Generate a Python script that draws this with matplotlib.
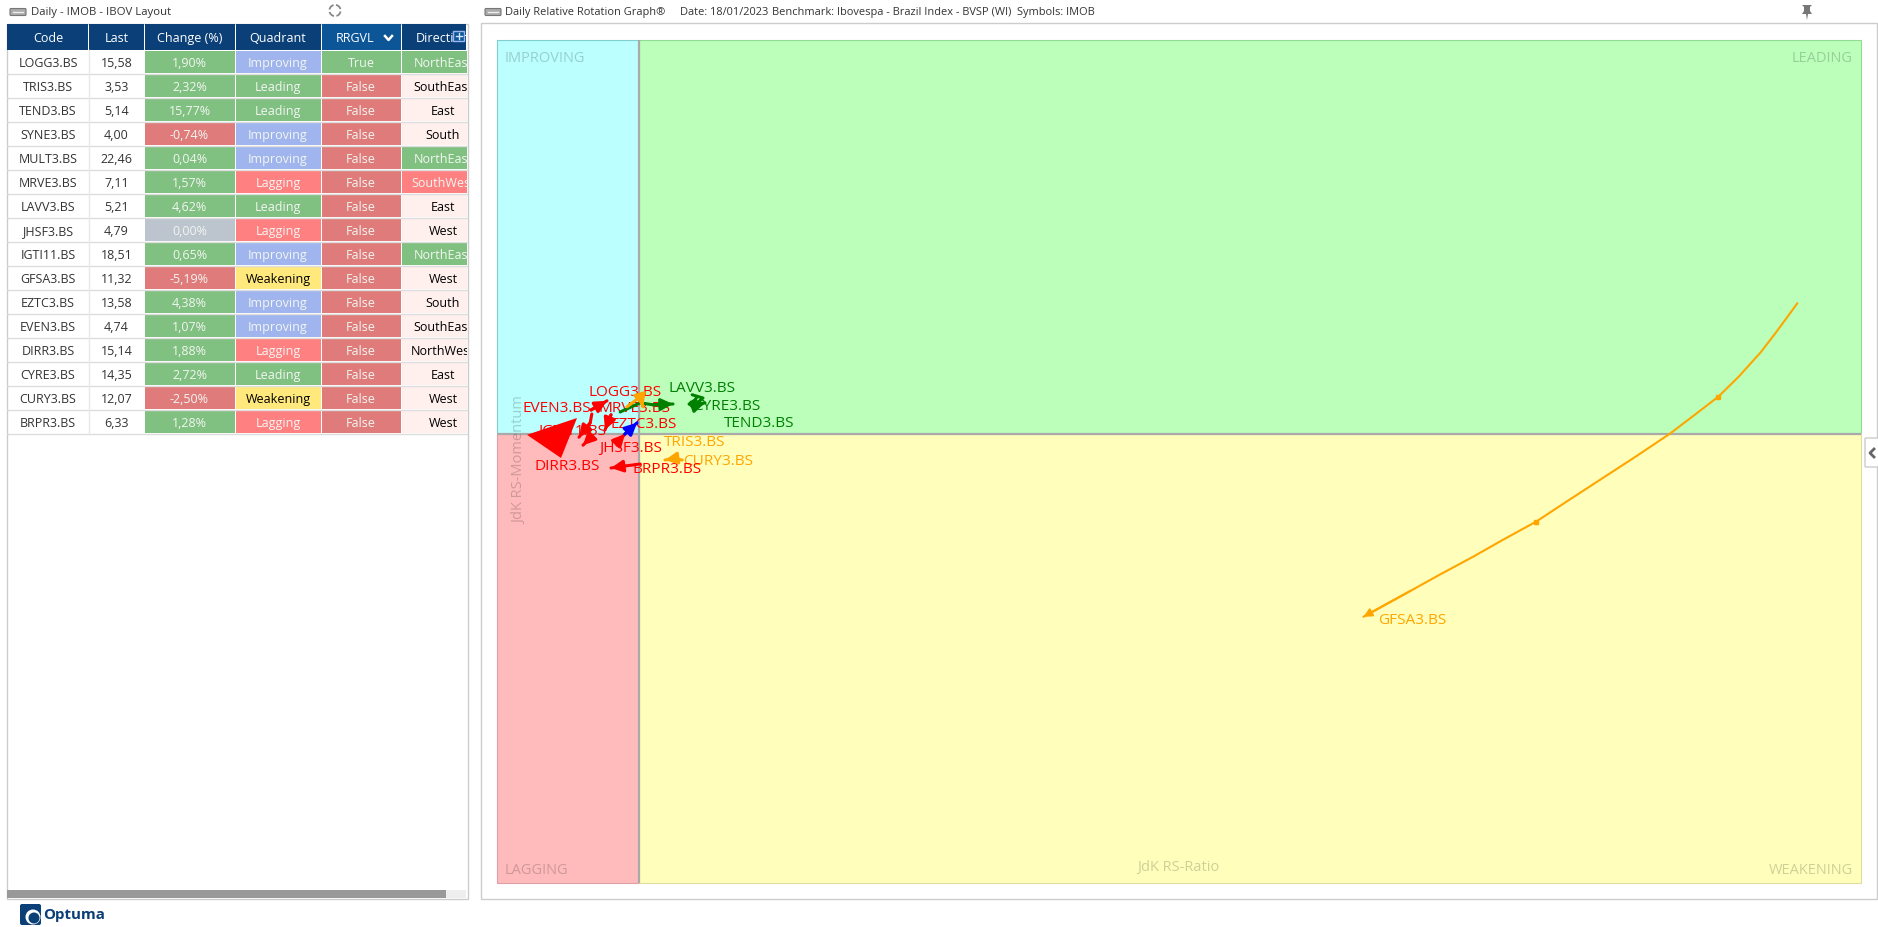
import matplotlib
matplotlib.use('Agg')
import matplotlib.pyplot as plt
from matplotlib.patches import Rectangle, Polygon, FancyBboxPatch, Circle, Wedge

plt.rcParams['font.family'] = ['Open Sans', 'DejaVu Sans']

# table columns
codes = ['LOGG3.BS', 'TRIS3.BS', 'TEND3.BS', 'SYNE3.BS', 'MULT3.BS', 'MRVE3.BS', 'LAVV3.BS', 'JHSF3.BS',
         'IGTI11.BS', 'GFSA3.BS', 'EZTC3.BS', 'EVEN3.BS', 'DIRR3.BS', 'CYRE3.BS', 'CURY3.BS', 'BRPR3.BS']
last = ['15,58', '3,53', '5,14', '4,00', '22,46', '7,11', '5,21', '4,79',
        '18,51', '11,32', '13,58', '4,74', '15,14', '14,35', '12,07', '6,33']
change = ['1,90%', '2,32%', '15,77%', '-0,74%', '0,04%', '1,57%', '4,62%', '0,00%',
          '0,65%', '-5,19%', '4,38%', '1,07%', '1,88%', '2,72%', '-2,50%', '1,28%']
quadrant = ['Improving', 'Leading', 'Leading', 'Improving', 'Improving', 'Lagging', 'Leading', 'Lagging',
            'Improving', 'Weakening', 'Improving', 'Improving', 'Lagging', 'Leading', 'Weakening', 'Lagging']
rrgvl = ['True'] + ['False'] * 15
direction = ['NorthEast', 'SouthEast', 'East', 'South', 'NorthEast', 'SouthWest', 'East', 'West',
             'NorthEast', 'West', 'South', 'SouthEast', 'NorthWest', 'East', 'West', 'West']
headers = ['Code', 'Last', 'Change (%)', 'Quadrant', 'RRGVL', 'Direction']

# rotation trails, (JdK RS-Ratio, JdK RS-Momentum)
gfsa_x = [128.96, 128.69, 128.41, 128.04, 127.49, 126.98, 126.38, 125.79, 124.91, 124.08, 123.25, 122.43,
          121.59, 120.85, 120.03, 119.29, 118.11]
gfsa_y = [103.27, 102.90, 102.52, 102.04, 101.43, 100.93, 100.47, 100.02, 99.43, 98.89, 98.35, 97.81,
          97.35, 96.93, 96.49, 96.08, 95.43]
logg_x = [98.80, 99.20]
logg_y = [100.60, 100.83]
even_x = [98.78, 98.60]
even_y = [99.90, 99.72]
mrve_x = [99.30, 99.15]
mrve_y = [100.48, 100.10]
igti_x = [98.82, 98.78, 98.50]
igti_y = [100.50, 100.28, 99.92]
jhsf_x = [99.45, 99.65]
jhsf_y = [99.78, 100.00]
eztc_x = [99.65, 99.95]
eztc_y = [100.00, 100.28]
brpr_x = [100.03, 99.65, 99.30]
brpr_y = [99.25, 99.20, 99.15]
tend_x = [99.53, 100.03, 100.35, 100.85]
tend_y = [100.55, 100.78, 100.73, 100.75]
tris_x = [99.70, 100.03, 100.10]
tris_y = [100.68, 100.93, 100.68]
cury_x = [101.08, 100.85, 100.65]
cury_y = [99.35, 99.38, 99.35]
cyre_x = [101.33, 101.60, 101.33, 101.65]
cyre_y = [100.98, 100.90, 100.68, 100.78]
lavv_x = [101.35, 101.45]
lavv_y = [100.75, 100.93]
dirr_x = [97.20, 98.45, 98.05]
dirr_y = [99.98, 100.40, 99.40]

GREEN = '#80C080'
RED = '#E07B7B'
ORANGE = '#FFA500'
LINE = '#CCCCCC'
quad_col = {'Improving': '#A0B4EE', 'Leading': GREEN, 'Lagging': '#FF8080', 'Weakening': '#FFE87C'}
dir_col = {'NorthEast': GREEN, 'SouthWest': '#FF8080'}

fig = plt.figure(figsize=(18.78, 9.27), dpi=100)
bg = fig.add_axes([0, 0, 1, 1])
bg.set_xlim(0, 1878)
bg.set_ylim(927, 0)
bg.axis('off')


def cell(x0, x1, y0, y1, color):
    bg.add_patch(Rectangle((x0, y0), x1 - x0, y1 - y0, fc=color, ec='none', zorder=1))


# left panel
bg.add_patch(Rectangle((6.5, 24), 461, 875, fc='white', ec=LINE, lw=1, zorder=0))
cols = [7, 89, 145, 236, 322, 402, 467]
cx = [48, 116.5, 189.5, 278, 361, 443]
clip = Rectangle((7, 24), 460, 420, transform=bg.transData)

for i, h in enumerate(headers):
    cell(cols[i], cols[i + 1] - 1, 24, 50, '#0C5596' if i == 4 else '#0B3F77')
    t = bg.text(cx[i] - (6 if i == 4 else 0), 38.5, h, color='white', fontsize=9, ha='center', va='center', zorder=3)
    t.set_clip_path(clip)
    t.set_clip_on(True)
bg.plot([385, 388.5, 392], [36, 40, 36], color='white', lw=1.8, zorder=3)
bg.add_patch(Rectangle((453, 31), 11, 10, fc='#0C5596', ec='#9DB8F0', lw=1, zorder=4))
bg.plot([458.5, 458.5], [33, 39], color='#D8E4FF', lw=1, zorder=5)
bg.plot([455.5, 461.5], [36, 36], color='#D8E4FF', lw=1, zorder=5)

for r in range(16):
    y0 = 50 + 24 * r
    y1 = y0 + 24
    ym = y0 + 13.5
    neg = change[r].startswith('-')
    chg_col = '#BCC4CE' if change[r] == '0,00%' else (RED if neg else GREEN)
    cell(cols[2], cols[3] - 1, y0 + 1, y1 - 1, chg_col)
    cell(cols[3], cols[4] - 1, y0 + 1, y1 - 1, quad_col[quadrant[r]])
    cell(cols[4], cols[5] - 1, y0 + 1, y1 - 1, GREEN if rrgvl[r] == 'True' else RED)
    cell(cols[5], cols[6], y0 + 1, y1 - 1, dir_col.get(direction[r], '#FFF0EE'))
    bg.plot([7, 467], [y1, y1], color='#DDDDDD', lw=1, zorder=2)
    bg.text(cx[0], ym, codes[r], color='#333333', fontsize=9, ha='center', va='center', zorder=3)
    bg.text(cx[1], ym, last[r], color='#333333', fontsize=9, ha='center', va='center', zorder=3)
    bg.text(cx[2], ym, change[r], color='#F2F6F2', fontsize=9, ha='center', va='center', zorder=3)
    bg.text(cx[3], ym, quadrant[r], color='black' if quadrant[r] == 'Weakening' else '#F2F6F2',
            fontsize=9, ha='center', va='center', zorder=3)
    bg.text(cx[4], ym, rrgvl[r], color='#F2F6F2', fontsize=9, ha='center', va='center', zorder=3)
    t = bg.text(cx[5], ym, direction[r], color='#F2F6F2' if direction[r] in dir_col else 'black',
                fontsize=9, ha='center', va='center', zorder=3)
    t.set_clip_path(clip)
    t.set_clip_on(True)
bg.plot([89, 89], [50, 434], color='#E8E8E8', lw=1, zorder=2)

# scrollbar
cell(7, 446, 890, 898, '#999999')
cell(446, 466, 890, 898, '#EEEEEE')


# header strips and small icons
def link_icon(x, y):
    bg.add_patch(FancyBboxPatch((x, y - 2.5), 14, 5, boxstyle='round,pad=1', fc='#AAAAAA', ec='#777777', lw=.8, zorder=3))
    bg.plot([x + 2, x + 12], [y, y], color='#EEEEEE', lw=1, zorder=4)


link_icon(11, 12)
link_icon(486, 12)
bg.text(31, 12, 'Daily - IMOB - IBOV Layout', color='#333333', fontsize=8.2, ha='left', va='center')
for tx, s in [(505, 'Daily Relative Rotation Graph®'), (679.5, 'Date: 18/01/2023'),
              (771.5, 'Benchmark: Ibovespa - Brazil Index - BVSP (WI)'), (1017, 'Symbols: IMOB')]:
    bg.text(tx, 12, s, color='#333333', fontsize=7.9, ha='left', va='center')
for a, b in [(10, 75), (100, 165), (190, 255), (280, 345)]:
    bg.add_patch(Wedge((335, 10.5), 6.5, a, b, width=1.8, fc='#888888', ec='none', zorder=3))
bg.add_patch(Polygon([(1802, 5), (1812, 5), (1810, 7), (1810, 11), (1812, 14), (1808, 14), (1807, 20), (1806, 14), (1802, 14), (1804, 11), (1804, 7)],
                     fc='#777777', ec='none', zorder=3))

# logo
bg.add_patch(FancyBboxPatch((22, 906), 17, 17, boxstyle='round,pad=2', fc='#0B3F77', ec='none', zorder=3))
bg.add_patch(Circle((33, 917), 7.5, fc='white', ec='none', zorder=4))
bg.add_patch(Circle((34, 918), 5.5, fc='#0B3F77', ec='none', zorder=5))
bg.text(43, 914.5, 'Optuma', color='#0B3F77', fontsize=10.8, fontweight='bold', ha='left', va='center', zorder=3)

# right panel
bg.add_patch(Rectangle((481, 23), 1396, 876, fc='white', ec=LINE, lw=1, zorder=0))
bg.add_patch(FancyBboxPatch((1866, 439), 14, 27, boxstyle='round,pad=1', fc='white', ec='#CCCCCC', lw=1, zorder=3))
bg.plot([1874, 1870, 1874], [449, 453, 457], color='#666666', lw=2, zorder=4)

# RRG area
ax = fig.add_axes([497 / 1878, 1 - 883 / 927, (1861 - 497) / 1878, (883 - 40) / 927], zorder=2)
ax.set_xlim(96.45, 130.55)
ax.set_ylim(88.775, 109.85)
ax.axis('off')
x0, x1 = ax.get_xlim()
y0, y1 = ax.get_ylim()
ax.add_patch(Rectangle((x0, 100), 100 - x0, y1 - 100, fc='#BBFFFF', ec='#80D0D0', lw=.8, clip_on=False))
ax.add_patch(Rectangle((100, 100), x1 - 100, y1 - 100, fc='#BBFFBB', ec='#90DC90', lw=.8, clip_on=False))
ax.add_patch(Rectangle((x0, y0), 100 - x0, 100 - y0, fc='#FFBBBB', ec='#DDA0A8', lw=.8, clip_on=False))
ax.add_patch(Rectangle((100, y0), x1 - 100, 100 - y0, fc='#FFFFBB', ec='#DDDDA0', lw=.8, clip_on=False))
ax.axhline(100, color='#AAAAAA', lw=1.6, zorder=2)
ax.axvline(100, color='#AAAAAA', lw=1.6, zorder=2)

corner_col = '#00000030'
bg2 = dict(transform=bg.transData, color=corner_col, fontsize=10.5, va='center', zorder=3)
ax.text(505, 58, 'IMPROVING', ha='left', **bg2)
ax.text(1853, 58, 'LEADING', ha='right', **bg2)
ax.text(505, 870, 'LAGGING', ha='left', **bg2)
ax.text(1853, 870, 'WEAKENING', ha='right', **bg2)
ax.text(1178, 868, 'JdK RS-Ratio', ha='center', **bg2)
ax.text(520, 460, 'JdK RS-Momentum', ha='center', rotation=90, **bg2)

# labels sit under the trails
label_cfg = [('LOGG3.BS', 589, 392, 'red'), ('LAVV3.BS', 668, 388, 'green'), ('EVEN3.BS', 522, 409, 'red'),
             ('MRVE3.BS', 599, 409, 'red'), ('CYRE3.BS', 693, 406, 'green'), ('IGTI11.BS', 538, 431, 'red'),
             ('EZTC3.BS', 610, 424, 'red'), ('TEND3.BS', 724, 423, 'green'), ('TRIS3.BS', 664, 442, ORANGE),
             ('JHSF3.BS', 599, 448, 'red'), ('CURY3.BS', 683, 461, ORANGE), ('DIRR3.BS', 534, 466, 'red'),
             ('BRPR3.BS', 632, 469, 'red'), ('GFSA3.BS', 1378, 620, ORANGE)]
for name, lx, ly, c in label_cfg:
    ax.text(lx, ly, name, transform=bg.transData, color=c, fontsize=11.1, ha='left', va='center', zorder=4)


def trail(xs, ys, color, head=10, lw=2.2):
    ax.plot(xs, ys, color=color, lw=lw, zorder=5, solid_capstyle='round')
    ax.annotate('', xy=(xs[-1], ys[-1]), xytext=(xs[-2], ys[-2]), zorder=6,
                arrowprops=dict(arrowstyle='-|>,head_length=.7,head_width=.35', color=color, lw=lw,
                                mutation_scale=head, shrinkA=0, shrinkB=0))


trail(gfsa_x, gfsa_y, ORANGE, head=7, lw=1.5)
ax.plot([gfsa_x[5], gfsa_x[11]], [gfsa_y[5], gfsa_y[11]], ls='none', marker='s', ms=2.5, color=ORANGE, zorder=6)
for xs, ys in [(logg_x, logg_y), (even_x, even_y), (mrve_x, mrve_y), (igti_x, igti_y), (jhsf_x, jhsf_y), (brpr_x, brpr_y)]:
    trail(xs, ys, 'red')
trail(eztc_x, eztc_y, 'blue')
trail(tend_x, tend_y, 'green')
trail(tris_x, tris_y, ORANGE)
trail(cury_x, cury_y, ORANGE)
trail(cyre_x, cyre_y, 'green')
trail(lavv_x, lavv_y, 'green', head=7)
ax.add_patch(Polygon(list(zip(dirr_x, dirr_y)), fc='red', ec='none', zorder=6))

fig.savefig('out.png', dpi=100)
